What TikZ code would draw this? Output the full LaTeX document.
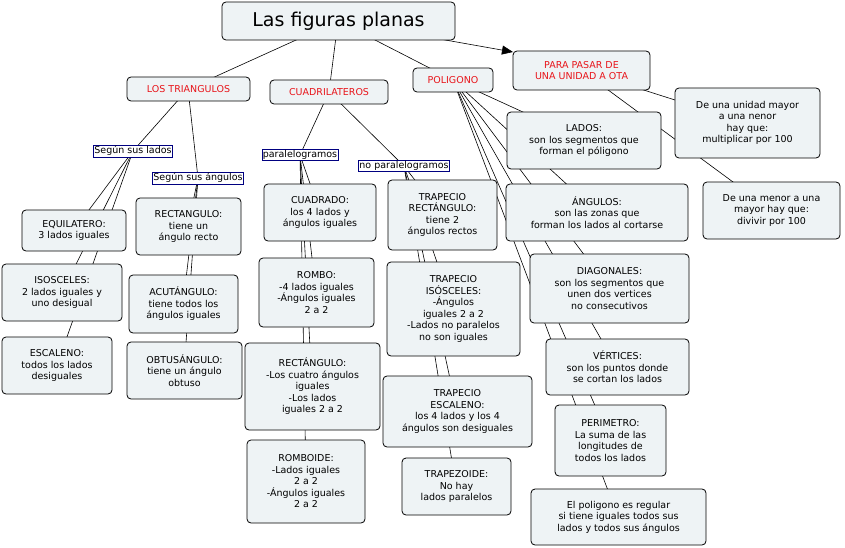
\documentclass[tikz,border=0pt]{standalone}
\usepackage{fontspec}
\setmainfont{DejaVu Sans}
\usetikzlibrary{arrows.meta}
\definecolor{boxfill}{HTML}{EEF3F5}
\definecolor{lbl}{HTML}{000080}
\definecolor{red1}{HTML}{E8141A}
\begin{document}
\begin{tikzpicture}[x=1pt,y=-1pt,
  concept/.style={draw,thick,rounded corners=4pt,fill=boxfill,align=center,font=\fontsize{9.5}{11.5}\selectfont,inner sep=0pt},
  lab/.style={draw=lbl,fill=white,font=\fontsize{9.5}{11}\selectfont,inner sep=1pt},
  link/.style={draw,line width=0.6pt}]
\useasboundingbox (0,0) rectangle (845,548);
\def\bx#1#2#3#4#5#6#7{\node[concept,#7,minimum width=#4-#2,minimum height=#5-#3] (#1) at ({(#2+#4)/2},{(#3+#5)/2}) {#6};}
% links first (drawn below nodes)
\coordinate (t) at (338,21);
\coordinate (ctri) at (188,89);
\coordinate (ccua) at (329,92);
\coordinate (cpol) at (453,80);
\coordinate (cpas) at (581,70);
\coordinate (lsl) at (133,151);
\coordinate (lsa) at (198,178);
\coordinate (lpar) at (300,155);
\coordinate (lnp) at (404,166);
\draw[link] (t)--(ctri); \draw[link] (t)--(ccua); \draw[link] (t)--(cpol);
\draw[link] (ctri)--(lsl); \draw[link] (ctri)--(lsa);
\draw[link] (ccua)--(lpar); \draw[link] (ccua)--(lnp);
\foreach \p in {(74,230),(62,292),(57,365)} \draw[link] (lsl)--\p;
\foreach \p in {(188,226),(183,304),(184,370)} \draw[link] (lsa)--\p;
\foreach \p in {(320,212),(316,292),(312,386),(306,480)} \draw[link] (lpar)--\p;
\foreach \p in {(442,215),(453,309),(457,411),(456,486)} \draw[link] (lnp)--\p;
\foreach \p in {(584,140),(597,212),(609,288),(617,367),(610,440),(618,517)} \draw[link] (cpol)--\p;
\draw[link] (cpas)--(747,123); \draw[link] (cpas)--(771,210);
\draw[link,-{Triangle[width=9pt,length=11pt]}] (t)--(513,52);
% nodes
\bx{title}{222}{2}{455}{40}{\fontsize{19}{22}\selectfont Las figuras planas}{}
\bx{tri}{127}{77}{250}{101}{\textcolor{red1}{LOS TRIANGULOS}}{}
\bx{cua}{270}{80}{388}{104}{\textcolor{red1}{CUADRILATEROS}}{}
\bx{pol}{413}{68}{493}{92}{\textcolor{red1}{POLIGONO}}{}
\bx{pas}{513}{51}{650}{90}{\textcolor{red1}{PARA PASAR DE}\\\textcolor{red1}{UNA UNIDAD A OTA}}{}
\bx{may}{675}{88}{820}{158}{De una unidad mayor\\a una nenor\\hay que:\\multiplicar por 100}{}
\bx{men}{703}{182}{840}{239}{De una menor a una\\mayor hay que:\\divivir por 100}{}
\bx{lad}{507}{112}{661}{169}{LADOS:\\son los segmentos que\\forman el póligono}{}
\bx{ang}{506}{184}{688}{241}{ÁNGULOS:\\son las zonas que\\forman los lados al cortarse}{}
\bx{dia}{530}{254}{689}{323}{DIAGONALES:\\son los segmentos que\\unen dos vertices\\no consecutivos}{}
\bx{ver}{546}{339}{689}{395}{VÉRTICES:\\son los puntos donde\\se cortan los lados}{}
\bx{per}{555}{405}{666}{476}{PERIMETRO:\\La suma de las\\longitudes de\\todos los lados}{}
\bx{reg}{531}{489}{706}{545}{El poligono es regular\\si tiene iguales todos sus\\lados y todos sus ángulos}{}
\bx{equ}{22}{210}{126}{251}{EQUILATERO:\\3 lados iguales}{}
\bx{iso}{2}{264}{122}{321}{ISOSCELES:\\2 lados iguales y\\uno desigual}{}
\bx{esc}{2}{337}{112}{394}{ESCALENO:\\todos los lados\\desiguales}{}
\bx{rec}{136}{198}{241}{255}{RECTANGULO:\\tiene un\\ángulo recto}{}
\bx{acu}{129}{275}{238}{333}{ACUTÁNGULO:\\tiene todos los\\ángulos iguales}{}
\bx{obt}{127}{342}{242}{399}{OBTUSÁNGULO:\\tiene un ángulo\\obtuso}{}
\bx{cdr}{264}{184}{376}{241}{CUADRADO:\\los 4 lados y\\ángulos iguales}{}
\bx{rom}{259}{258}{374}{327}{ROMBO:\\-4 lados iguales\\-Ángulos iguales\\2 a 2}{}
\bx{rct}{245}{343}{380}{430}{RECTÁNGULO:\\-Los cuatro ángulos\\iguales\\-Los lados\\iguales 2 a 2}{}
\bx{rmb}{247}{440}{365}{523}{ROMBOIDE:\\-Lados iguales\\2 a 2\\-Ángulos iguales\\2 a 2}{}
\bx{tre}{388}{180}{497}{250}{TRAPECIO\\RECTÁNGULO:\\tiene 2\\ángulos rectos}{}
\bx{tis}{387}{262}{520}{356}{TRAPECIO\\ISÓSCELES:\\-Ángulos\\iguales 2 a 2\\-Lados no paralelos\\no son iguales}{}
\bx{tes}{383}{376}{532}{447}{TRAPECIO\\ESCALENO:\\los 4 lados y los 4\\ángulos son desiguales}{}
\bx{tzd}{402}{458}{511}{515}{TRAPEZOIDE:\\No hay\\lados paralelos}{}
\node[lab] (sl) at (lsl) {Según sus lados};
\node[lab] (sa) at (lsa) {Según sus ángulos};
\node[lab] (pa) at (lpar) {paralelogramos};
\node[lab] (np) at (lnp) {no paralelogramos};
\end{tikzpicture}
\end{document}
